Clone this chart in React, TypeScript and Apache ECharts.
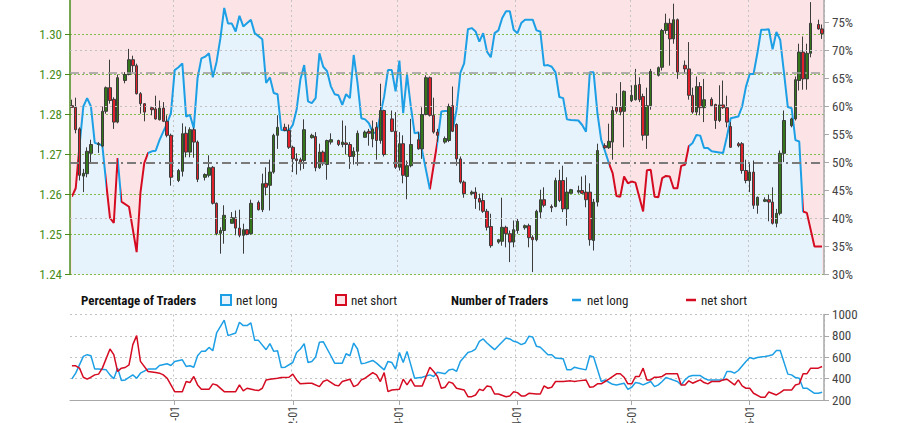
import React, { useEffect, useRef } from 'react';
import * as echarts from 'echarts';

// ---------- categories (calendar days) ----------
const START_DATE = '2021-12-05';
const DAY_COUNT = 198;
const days: string[] = [];
{
  const t0 = Date.parse(START_DATE + 'T00:00:00Z');
  for (let i = 0; i < DAY_COUNT; i++) days.push(new Date(t0 + i * 86400000).toISOString().slice(0, 10));
}

// ---------- price candles: [dayIndex, open, close, low, high] ----------
const candles: number[][] = [
  [0, 1.2822, 1.2818, 1.2817, 1.2837], [1, 1.2818, 1.2762, 1.2753, 1.2842], [2, 1.2764, 1.2648, 1.2635, 1.2768],
  [3, 1.2646, 1.2653, 1.2606, 1.2664], [4, 1.2652, 1.2708, 1.2643, 1.2718], [5, 1.2703, 1.2725, 1.2677, 1.2737],
  [7, 1.2725, 1.2727, 1.2704, 1.2731], [8, 1.2721, 1.2808, 1.2718, 1.282], [9, 1.2808, 1.2867, 1.2802, 1.287],
  [10, 1.2867, 1.2835, 1.2827, 1.2937], [11, 1.2838, 1.2781, 1.2764, 1.2843], [12, 1.2781, 1.2892, 1.2778, 1.29],
  [14, 1.2885, 1.29, 1.2878, 1.2906], [15, 1.29, 1.2937, 1.2898, 1.2964], [16, 1.2937, 1.2922, 1.2906, 1.2947],
  [17, 1.2922, 1.2852, 1.285, 1.2927], [18, 1.2852, 1.2827, 1.2802, 1.2856], [19, 1.2827, 1.2806, 1.2783, 1.2828],
  [21, 1.2817, 1.2812, 1.2798, 1.2818], [22, 1.2814, 1.2789, 1.2787, 1.2847], [23, 1.2787, 1.2816, 1.2785, 1.2835],
  [24, 1.2816, 1.2783, 1.2781, 1.2831], [25, 1.2783, 1.2748, 1.2743, 1.2798], [26, 1.2748, 1.2643, 1.2622, 1.2752],
  [28, 1.2635, 1.266, 1.2631, 1.2664], [29, 1.2658, 1.2752, 1.2645, 1.2778], [30, 1.2753, 1.2706, 1.2693, 1.277],
  [31, 1.2706, 1.2762, 1.2693, 1.2768], [32, 1.2762, 1.2731, 1.2692, 1.2767], [33, 1.2731, 1.2638, 1.2631, 1.2735],
  [35, 1.2643, 1.265, 1.2635, 1.2653], [36, 1.2648, 1.2667, 1.2643, 1.2698], [37, 1.2668, 1.2578, 1.2575, 1.2671],
  [38, 1.2578, 1.2502, 1.2498, 1.258], [39, 1.2503, 1.251, 1.2452, 1.2518], [40, 1.251, 1.2548, 1.2477, 1.2573],
  [42, 1.2528, 1.2542, 1.2527, 1.2556], [43, 1.2542, 1.2516, 1.2498, 1.256], [44, 1.2516, 1.2498, 1.2493, 1.2562],
  [45, 1.2498, 1.2512, 1.2452, 1.2527], [46, 1.2512, 1.25, 1.2498, 1.2514], [47, 1.2502, 1.2578, 1.25, 1.2587],
  [49, 1.258, 1.2562, 1.256, 1.2585], [50, 1.2562, 1.2627, 1.2556, 1.2652], [51, 1.2628, 1.2618, 1.2598, 1.2668],
  [52, 1.2623, 1.2656, 1.256, 1.2687], [53, 1.2656, 1.2748, 1.2652, 1.2752], [54, 1.2748, 1.2768, 1.2714, 1.2798],
  [56, 1.2768, 1.276, 1.2758, 1.2777], [57, 1.276, 1.2718, 1.2714, 1.2775], [58, 1.2718, 1.2689, 1.2656, 1.2722],
  [59, 1.2689, 1.2685, 1.265, 1.2703], [60, 1.2687, 1.2681, 1.266, 1.2692], [61, 1.2685, 1.2762, 1.2664, 1.2788],
  [63, 1.2742, 1.2748, 1.274, 1.2752], [64, 1.2745, 1.2667, 1.2658, 1.2756], [65, 1.2667, 1.2706, 1.2664, 1.2727],
  [66, 1.2706, 1.2677, 1.2672, 1.271], [67, 1.2675, 1.2735, 1.2637, 1.2737], [68, 1.2731, 1.2737, 1.2725, 1.2753],
  [70, 1.2735, 1.2725, 1.2721, 1.2737], [71, 1.2725, 1.2731, 1.2718, 1.2785], [72, 1.2729, 1.2725, 1.27, 1.2772],
  [73, 1.2725, 1.2695, 1.2664, 1.2731], [74, 1.2695, 1.2708, 1.2675, 1.2718], [75, 1.2708, 1.2753, 1.2672, 1.276],
  [77, 1.2743, 1.2756, 1.2742, 1.276], [78, 1.2758, 1.2753, 1.2722, 1.2764], [79, 1.2739, 1.2764, 1.2718, 1.2785],
  [80, 1.2768, 1.2735, 1.2687, 1.2781], [81, 1.2735, 1.281, 1.2727, 1.2877], [82, 1.281, 1.27, 1.2695, 1.2812],
  [84, 1.2789, 1.2758, 1.2756, 1.281], [85, 1.2758, 1.2668, 1.2664, 1.2806], [86, 1.2668, 1.2727, 1.266, 1.2756],
  [87, 1.2727, 1.2648, 1.2628, 1.2748], [88, 1.2645, 1.2672, 1.2588, 1.2685], [89, 1.2672, 1.2725, 1.2668, 1.2789],
  [91, 1.2737, 1.2714, 1.2712, 1.2756], [92, 1.2714, 1.28, 1.2689, 1.2818], [93, 1.28, 1.2892, 1.2798, 1.2898],
  [94, 1.2892, 1.2798, 1.2795, 1.2895], [95, 1.2798, 1.2756, 1.2752, 1.2842], [96, 1.2756, 1.2748, 1.2731, 1.2764],
  [98, 1.2731, 1.274, 1.2727, 1.2745], [99, 1.2735, 1.282, 1.2731, 1.2827], [100, 1.2822, 1.2758, 1.2756, 1.287],
  [101, 1.2775, 1.2689, 1.2672, 1.2778], [102, 1.2689, 1.2631, 1.2627, 1.2695], [103, 1.2631, 1.2602, 1.2592, 1.2635],
  [105, 1.2602, 1.2606, 1.2598, 1.261], [106, 1.2606, 1.259, 1.2564, 1.2618], [107, 1.259, 1.2581, 1.256, 1.2602],
  [108, 1.2585, 1.2558, 1.2554, 1.2603], [109, 1.2558, 1.2518, 1.251, 1.2564], [110, 1.252, 1.2472, 1.2467, 1.2552],
  [112, 1.2481, 1.2487, 1.2477, 1.2489], [113, 1.2483, 1.2518, 1.2472, 1.2592], [114, 1.2518, 1.2502, 1.2468, 1.2522],
  [115, 1.2502, 1.2481, 1.2431, 1.251], [116, 1.2481, 1.2512, 1.2468, 1.2535], [117, 1.251, 1.2533, 1.2502, 1.2539],
  [119, 1.2517, 1.2522, 1.2512, 1.2525], [120, 1.2522, 1.2492, 1.2468, 1.2527], [121, 1.2493, 1.2487, 1.2406, 1.2498],
  [122, 1.2487, 1.2558, 1.2483, 1.2562], [123, 1.2556, 1.2587, 1.2539, 1.2612], [124, 1.2587, 1.2573, 1.2568, 1.2618],
  [126, 1.257, 1.2567, 1.2556, 1.2575], [127, 1.257, 1.2635, 1.2568, 1.2642], [128, 1.2635, 1.2585, 1.2581, 1.2662],
  [129, 1.2635, 1.2564, 1.2556, 1.2672], [130, 1.2564, 1.2606, 1.2522, 1.2643], [131, 1.2603, 1.2612, 1.2602, 1.2614],
  [133, 1.2606, 1.261, 1.2602, 1.2622], [134, 1.261, 1.2603, 1.2602, 1.2645], [135, 1.2606, 1.2587, 1.2568, 1.2648],
  [136, 1.2606, 1.2487, 1.2472, 1.2628], [137, 1.2485, 1.2581, 1.246, 1.2589], [138, 1.2581, 1.271, 1.257, 1.2727],
  [140, 1.2722, 1.2717, 1.2714, 1.2728], [141, 1.2717, 1.2733, 1.2714, 1.2777], [142, 1.2731, 1.281, 1.2687, 1.282],
  [143, 1.2818, 1.2808, 1.2802, 1.2853], [144, 1.2818, 1.2806, 1.2798, 1.2881], [145, 1.2808, 1.2858, 1.2718, 1.286],
  [147, 1.2835, 1.2848, 1.2831, 1.2873], [148, 1.2837, 1.2873, 1.2835, 1.2914], [149, 1.2875, 1.2837, 1.2831, 1.2893],
  [150, 1.2845, 1.2748, 1.2735, 1.2852], [151, 1.2748, 1.2822, 1.2714, 1.2867], [152, 1.2822, 1.2908, 1.2812, 1.2914],
  [154, 1.2898, 1.2917, 1.2895, 1.292], [155, 1.2918, 1.301, 1.291, 1.3014], [156, 1.301, 1.3028, 1.3002, 1.3052],
  [157, 1.3028, 1.2989, 1.2922, 1.304], [158, 1.2989, 1.3037, 1.2977, 1.3077], [159, 1.3037, 1.2906, 1.2889, 1.304],
  [161, 1.2923, 1.2914, 1.2902, 1.2935], [162, 1.2914, 1.2848, 1.2837, 1.2981], [163, 1.2848, 1.2806, 1.2802, 1.2867],
  [164, 1.2806, 1.287, 1.2798, 1.2895], [165, 1.287, 1.2817, 1.2798, 1.2881], [166, 1.2817, 1.2837, 1.2781, 1.2889],
  [168, 1.2838, 1.2822, 1.282, 1.2843], [169, 1.2825, 1.2785, 1.2764, 1.2827], [170, 1.2785, 1.2824, 1.2781, 1.2873],
  [171, 1.2824, 1.2817, 1.2814, 1.2885], [172, 1.2817, 1.2781, 1.2768, 1.2847], [173, 1.277, 1.2718, 1.2717, 1.2781],
  [175, 1.2727, 1.2722, 1.2718, 1.2731], [176, 1.2727, 1.266, 1.2652, 1.2731], [177, 1.266, 1.2635, 1.2628, 1.2687],
  [178, 1.2635, 1.2656, 1.2606, 1.2681], [179, 1.2656, 1.2573, 1.2564, 1.2685], [180, 1.2573, 1.2593, 1.2552, 1.2595],
  [182, 1.2583, 1.2587, 1.2581, 1.2593], [183, 1.2587, 1.2581, 1.2533, 1.26], [184, 1.2581, 1.2528, 1.2525, 1.2618],
  [185, 1.2528, 1.2553, 1.2518, 1.2564], [186, 1.2553, 1.2703, 1.2548, 1.271], [187, 1.2703, 1.2785, 1.2681, 1.281],
  [189, 1.2772, 1.2789, 1.2768, 1.2792], [190, 1.2789, 1.2887, 1.2785, 1.2895], [191, 1.2885, 1.2956, 1.286, 1.2977],
  [192, 1.2956, 1.2889, 1.2862, 1.2995], [193, 1.2889, 1.2953, 1.2862, 1.2977], [194, 1.2953, 1.3028, 1.2943, 1.3081],
  [196, 1.3025, 1.3014, 1.3012, 1.3037], [197, 1.3014, 1.3002, 1.2989, 1.3025],
];

// ---------- percentage of traders net long: [dayIndex, %] ----------
const pctNetLong: number[][] = [
  [0, 43.9], [1, 45.4], [2, 53], [3, 60], [4, 61.5], [5, 60], [6, 53.5], [7, 53.3], [8, 53], [9, 46.3], [10, 40.1],
  [11, 39.2], [12, 50.8], [13, 43], [15, 42.1], [17, 34], [18, 44.6], [19, 49.9], [20, 51.7], [21, 52], [22, 52.1],
  [23, 54], [24, 55.5], [25, 57], [26, 58.8], [27, 66.5], [28, 67], [29, 67.7], [30, 58.2], [31, 58.5], [32, 56.1],
  [33, 65.1], [34, 68.6], [35, 68.9], [36, 69.5], [37, 65.2], [38, 68], [39, 72.2], [40, 77.6], [41, 74.8], [42, 74.8],
  [43, 73.4], [44, 76.2], [45, 74.3], [47, 75.5], [48, 73.1], [50, 72], [51, 64.2], [52, 65.2], [53, 62.4], [54, 62.2],
  [55, 55.8], [57, 55.7], [58, 56.7], [59, 59.4], [60, 64.8], [61, 67.4], [62, 60.9], [63, 60.6], [64, 61.5], [65, 69.5],
  [66, 67.1], [67, 66.3], [68, 63.6], [69, 62.2], [70, 62], [71, 60.3], [72, 62.2], [73, 61.5], [74, 69.2], [75, 64.2],
  [76, 57.9], [77, 57.7], [78, 57], [79, 55.4], [80, 55.2], [82, 61.8], [83, 66.5], [84, 66.5], [85, 62.7], [86, 68.2],
  [87, 58.8], [88, 65.7], [89, 60], [90, 55.2], [91, 55.4], [94, 45.2], [96, 53.75], [97, 59.1], [98, 59.2], [99, 59.2],
  [100, 55.8], [101, 59.4], [102, 66], [103, 67.7], [104, 73.8], [105, 74], [106, 73.4], [107, 71.6], [108, 73.1],
  [109, 69.8], [110, 68.8], [111, 73.1], [112, 73.6], [113, 75.8], [114, 77], [115, 77], [116, 73.7], [117, 73.1],
  [118, 74.9], [119, 75.5], [121, 75.5], [122, 73.6], [123, 73.4], [124, 67.3], [125, 67.4], [126, 67.1], [127, 66.1],
  [128, 61.7], [129, 61.5], [130, 57.7], [131, 57.6], [133, 57.5], [134, 56.7], [135, 55.5], [136, 66.1], [137, 66.1],
  [138, 58.8], [139, 54], [140, 52], [141, 49.9], [142, 48.1], [143, 44], [144, 43.9], [145, 47.5], [146, 46.3],
  [147, 46.6], [148, 46.4], [150, 41.25], [151, 48.6], [152, 48.7], [153, 43.9], [154, 43.8], [155, 47.2], [156, 47.6],
  [157, 47.5], [158, 45.4], [159, 45.4], [160, 49.4], [161, 49.6], [162, 52.9], [163, 53.5], [164, 54.9], [165, 54.8],
  [166, 52.6], [167, 52.6], [168, 52], [170, 51.8], [171, 51.7], [172, 54.6], [173, 57.9], [175, 58.2], [176, 60],
  [177, 63.5], [178, 65.8], [179, 65.8], [180, 69.5], [181, 73.7], [182, 73.7], [183, 73.8], [184, 70.2], [185, 73.3],
  [186, 71.9], [187, 66], [188, 59.9], [189, 59.7], [190, 54], [191, 53.75], [192, 41.25], [193, 41], [195, 35], [197, 35],
];

// ---------- number of traders: [dayIndex, count] ----------
const countNetLong: number[][] = [
  [0, 398], [1, 451], [3, 608], [4, 624], [5, 614], [6, 489], [7, 489], [9, 482], [10, 435], [11, 398], [12, 498],
  [13, 382], [14, 388], [16, 435], [17, 404], [18, 451], [20, 489], [22, 489], [23, 523], [25, 539], [26, 523], [27, 561],
  [29, 576], [30, 514], [31, 520], [32, 507], [33, 614], [34, 655], [35, 655], [36, 692], [37, 661], [38, 827], [40, 947],
  [41, 802], [43, 827], [44, 928], [45, 896], [46, 896], [47, 922], [48, 758], [49, 758], [51, 671], [52, 727], [53, 655],
  [54, 661], [55, 504], [56, 507], [58, 551], [59, 645], [60, 677], [61, 727], [62, 551], [63, 561], [64, 602], [65, 740],
  [66, 746], [68, 614], [69, 545], [71, 545], [72, 633], [73, 614], [74, 733], [75, 677], [76, 539], [77, 545], [79, 570],
  [80, 545], [82, 482], [83, 561], [84, 551], [85, 489], [86, 645], [87, 551], [88, 655], [89, 529], [90, 404], [92, 413],
  [94, 435], [95, 420], [96, 460], [98, 445], [99, 480], [100, 489], [101, 467], [102, 561], [104, 645], [105, 655],
  [106, 677], [107, 749], [108, 771], [109, 733], [110, 702], [111, 671], [112, 708], [114, 780], [115, 771], [116, 749],
  [117, 740], [118, 718], [119, 733], [120, 796], [121, 790], [122, 702], [123, 693], [125, 624], [126, 624], [127, 592],
  [129, 586], [130, 482], [131, 482], [132, 507], [133, 498], [135, 482], [136, 614], [137, 602], [139, 373], [140, 388],
  [141, 366], [142, 347], [143, 341], [145, 357], [146, 300], [147, 319], [148, 363], [149, 357], [150, 341], [152, 373],
  [153, 325], [154, 341], [155, 373], [156, 410], [157, 398], [159, 373], [160, 341], [161, 388], [162, 420], [163, 429],
  [165, 429], [166, 404], [167, 388], [168, 388], [169, 388], [171, 388], [172, 467], [173, 467], [174, 451], [175, 476],
  [177, 561], [178, 598], [179, 586], [180, 598], [182, 608], [183, 614], [184, 624], [185, 664], [186, 664], [188, 442],
  [189, 435], [190, 410], [191, 404], [192, 310], [193, 310], [195, 263], [196, 263], [197, 272],
];
const countNetShort: number[][] = [
  [0, 520], [1, 520], [2, 498], [3, 413], [4, 395], [5, 413], [6, 435], [7, 442], [8, 498], [10, 677], [11, 624],
  [12, 467], [13, 498], [14, 504], [15, 529], [16, 718], [17, 802], [18, 561], [20, 467], [22, 457], [23, 451], [24, 435],
  [25, 404], [27, 278], [29, 278], [30, 373], [31, 363], [32, 420], [33, 341], [34, 300], [36, 300], [37, 351], [38, 341],
  [40, 278], [43, 278], [44, 341], [45, 285], [46, 310], [48, 294], [49, 288], [50, 310], [51, 388], [52, 395], [54, 404],
  [55, 410], [57, 413], [58, 442], [59, 388], [60, 351], [62, 357], [63, 357], [65, 325], [66, 373], [67, 388], [69, 341],
  [70, 332], [71, 373], [73, 395], [74, 325], [75, 341], [76, 388], [77, 404], [79, 457], [80, 435], [81, 373], [82, 457],
  [83, 278], [84, 294], [86, 300], [87, 395], [88, 341], [89, 395], [90, 332], [92, 332], [93, 420], [94, 507], [95, 467],
  [96, 420], [97, 310], [98, 319], [99, 370], [100, 357], [101, 310], [103, 294], [104, 231], [105, 231], [106, 247],
  [107, 300], [108, 288], [109, 332], [110, 325], [111, 256], [112, 256], [114, 231], [115, 238], [116, 278], [117, 269],
  [118, 238], [119, 238], [120, 263], [122, 256], [123, 256], [124, 332], [125, 310], [126, 319], [127, 373], [129, 373],
  [131, 379], [132, 373], [133, 379], [135, 388], [136, 319], [137, 325], [138, 351], [139, 351], [140, 373], [141, 395],
  [143, 445], [144, 445], [145, 413], [146, 351], [147, 351], [148, 420], [149, 420], [150, 498], [151, 388], [152, 388],
  [153, 413], [154, 413], [155, 420], [156, 445], [157, 445], [159, 445], [160, 341], [161, 341], [162, 380], [163, 357],
  [164, 373], [165, 388], [166, 363], [167, 351], [168, 373], [170, 373], [171, 388], [172, 395], [174, 341], [175, 388],
  [176, 332], [177, 310], [178, 310], [179, 263], [181, 225], [182, 225], [183, 275], [185, 247], [186, 269], [187, 294],
  [189, 294], [190, 341], [191, 351], [192, 445], [193, 445], [194, 498], [195, 498], [196, 498], [197, 514],
];

// ---------- tick values ----------
const priceTicks = { min: 1.24, step: 0.01 };
const pctTicks = { min: 30, step: 5 };
const countTicks = { min: 200, max: 1000, step: 200 };
const pctGuideLines = [40, 60, 70];
const pctMidLine = 50;
const pctUpperLine = 66.1;

const BLUE = '#1d9fe5';
const RED = '#d50b22';
const GREEN_AXIS = '#4a8c1c';
const FONT = "'Roboto Condensed', 'Liberation Sans Narrow', 'DejaVu Sans Condensed', Roboto, sans-serif";

function segmentPieces(points: number[][]) {
  const pieces: any[] = [];
  for (let i = 0; i < points.length - 1; i++) {
    const color = points[i][1] >= 50 ? BLUE : RED;
    const from = points[i][0];
    const to = points[i + 1][0];
    const last = pieces[pieces.length - 1];
    if (last && last.color === color) last.lt = to;
    else pieces.push({ gte: from, lt: to, color });
  }
  const last = pieces[pieces.length - 1];
  last.lte = last.lt;
  delete last.lt;
  return pieces;
}

const isMonthStart = (_i: number, v: string) => typeof v === 'string' && v.endsWith('-01');

export default function App() {
  const ref = useRef<HTMLDivElement>(null);
  useEffect(() => {
    document.body.style.margin = '0';
    if (!ref.current) return;
    const chart = echarts.init(ref.current, undefined, { renderer: 'svg' });
    const GL = 70;
    const GR = 76;
    const topH = 274.5;
    const pctMax = pctTicks.min + (topH / 28) * pctTicks.step;
    const priceMax = priceTicks.min + (topH / 40) * priceTicks.step;

    const option: any = {
      animation: false,
      textStyle: { fontFamily: FONT },
      grid: [
        { left: GL, right: GR, top: 0, height: topH, show: true, backgroundColor: '#fce4e6', borderWidth: 0, containLabel: false, outerBoundsMode: 'none' },
        { left: GL, right: GR, top: 314.5, height: 85.5, containLabel: false, outerBoundsMode: 'none' },
      ],
      visualMap: {
        type: 'piecewise', show: false, dimension: 0, seriesIndex: 2,
        pieces: segmentPieces(pctNetLong),
      },
      xAxis: [
        {
          type: 'category', gridIndex: 0, data: days, boundaryGap: true, z: 1.5,
          axisLine: { show: false }, axisTick: { show: false }, axisLabel: { show: false },
          splitLine: { show: true, interval: isMonthStart, lineStyle: { color: '#c3c3c3', type: [2, 3], width: 1 } },
        },
        {
          type: 'category', gridIndex: 1, data: days, boundaryGap: true,
          axisLine: { show: true, lineStyle: { color: '#a8a8a8', width: 1 } },
          axisTick: { show: true, interval: isMonthStart, alignWithLabel: true, length: 5, lineStyle: { color: '#a8a8a8' } },
          axisLabel: { show: true, interval: isMonthStart, rotate: 90, color: '#444', fontSize: 12, fontFamily: FONT, margin: 6 },
          splitLine: { show: true, interval: isMonthStart, lineStyle: { color: '#c3c3c3', type: [2, 3], width: 1 } },
        },
      ],
      yAxis: [
        {
          type: 'value', gridIndex: 0, position: 'left', min: priceTicks.min, max: priceMax, interval: priceTicks.step, z: 1.5,
          axisLine: { show: true, lineStyle: { color: GREEN_AXIS, width: 1.5 } },
          axisTick: { show: true, length: 5, lineStyle: { color: GREEN_AXIS } },
          axisLabel: {
            color: GREEN_AXIS, fontSize: 13, fontFamily: FONT, margin: 8, showMaxLabel: false,
            formatter: (v: number) => (Math.abs(v * 100 - Math.round(v * 100)) < 1e-6 ? v.toFixed(2) : ''),
          },
          splitLine: { show: true, showMaxLine: false, lineStyle: { color: '#7fbc4e', type: [2, 2], width: 1 } },
        },
        {
          type: 'value', gridIndex: 0, position: 'right', min: pctTicks.min, max: pctMax, interval: pctTicks.step, z: 1.5,
          axisLine: { show: true, lineStyle: { color: '#a8a8a8', width: 1.5 } },
          axisTick: { show: true, length: 5, lineStyle: { color: '#a8a8a8' } },
          axisLabel: {
            color: '#444', fontSize: 13, fontFamily: FONT, margin: 8, showMaxLabel: false,
            formatter: (v: number) => (Math.abs(v % 5) < 1e-6 ? v + '%' : ''),
          },
          splitLine: { show: false },
        },
        {
          type: 'value', gridIndex: 1, position: 'right', min: countTicks.min, max: countTicks.max, interval: countTicks.step,
          axisLine: { show: true, lineStyle: { color: '#a8a8a8', width: 1.5 } },
          axisTick: { show: true, length: 5, lineStyle: { color: '#a8a8a8' } },
          axisLabel: { color: '#444', fontSize: 13, fontFamily: FONT, margin: 8, formatter: (v: number) => String(v) },
          splitLine: { show: true, lineStyle: { color: '#c3c3c3', type: [2, 3], width: 1 } },
        },
      ],
      series: [
        {
          name: 'net long area', type: 'line', xAxisIndex: 0, yAxisIndex: 1, data: pctNetLong, z: 1,
          symbol: 'none', silent: true, lineStyle: { width: 0 },
          areaStyle: { color: '#e6f3fc', opacity: 1, origin: 'start' },
        },
        {
          name: 'guides', type: 'line', xAxisIndex: 0, yAxisIndex: 1, data: [], z: 1.6, silent: true,
          markLine: {
            silent: true, symbol: 'none', label: { show: false }, animation: false,
            data: [
              ...pctGuideLines.map((v) => ({ yAxis: v, lineStyle: { color: '#c0c0c0', type: [2, 3], width: 1 } })),
              { yAxis: pctMidLine, lineStyle: { color: '#7a7a7a', type: [9, 4, 2, 4], width: 2 } },
              { yAxis: pctUpperLine, lineStyle: { color: '#9a9a9a', type: [9, 4, 2, 4], width: 1.5 } },
            ],
          },
        },
        {
          name: 'net long %', type: 'line', xAxisIndex: 0, yAxisIndex: 1, data: pctNetLong, z: 2,
          symbol: 'none', silent: true, lineStyle: { width: 2 },
        },
        {
          name: 'price', type: 'candlestick', xAxisIndex: 0, yAxisIndex: 0, data: candles, z: 3,
          encode: { x: 0, y: [1, 2, 3, 4] }, barWidth: 3,
          itemStyle: { color: '#33771a', color0: '#e0202a', borderColor: '#3c3c3c', borderColor0: '#3c3c3c', borderWidth: 1 },
        },
        {
          name: 'net long count', type: 'line', xAxisIndex: 1, yAxisIndex: 2, data: countNetLong,
          symbol: 'none', lineStyle: { color: BLUE, width: 1.5 }, itemStyle: { color: BLUE },
        },
        {
          name: 'net short count', type: 'line', xAxisIndex: 1, yAxisIndex: 2, data: countNetShort,
          symbol: 'none', lineStyle: { color: RED, width: 1.5 }, itemStyle: { color: RED },
        },
      ],
      graphic: [
        { type: 'text', x: 81, y: 300, style: { text: 'Percentage of Traders', fontSize: 13, fontWeight: 'bold', fontFamily: FONT, fill: '#111', verticalAlign: 'middle' } },
        { type: 'rect', shape: { x: 221, y: 295, width: 10, height: 10 }, style: { fill: '#e6f3fc', stroke: BLUE, lineWidth: 2 } },
        { type: 'text', x: 236, y: 300, style: { text: 'net long', fontSize: 13, fontFamily: FONT, fill: '#222', verticalAlign: 'middle' } },
        { type: 'rect', shape: { x: 336, y: 295, width: 10, height: 10 }, style: { fill: '#fce4e6', stroke: RED, lineWidth: 2 } },
        { type: 'text', x: 351, y: 300, style: { text: 'net short', fontSize: 13, fontFamily: FONT, fill: '#222', verticalAlign: 'middle' } },
        { type: 'text', x: 451, y: 300, style: { text: 'Number of Traders', fontSize: 13, fontWeight: 'bold', fontFamily: FONT, fill: '#111', verticalAlign: 'middle' } },
        { type: 'line', shape: { x1: 572, y1: 300, x2: 581, y2: 300 }, style: { stroke: BLUE, lineWidth: 2.5 } },
        { type: 'text', x: 587, y: 300, style: { text: 'net long', fontSize: 13, fontFamily: FONT, fill: '#222', verticalAlign: 'middle' } },
        { type: 'line', shape: { x1: 686, y1: 300, x2: 696, y2: 300 }, style: { stroke: RED, lineWidth: 2.5 } },
        { type: 'text', x: 701, y: 300, style: { text: 'net short', fontSize: 13, fontFamily: FONT, fill: '#222', verticalAlign: 'middle' } },
      ],
    };
    chart.setOption(option);
    return () => chart.dispose();
  }, []);
  return <div ref={ref} style={{ width: 900, height: 423 }} />;
}
